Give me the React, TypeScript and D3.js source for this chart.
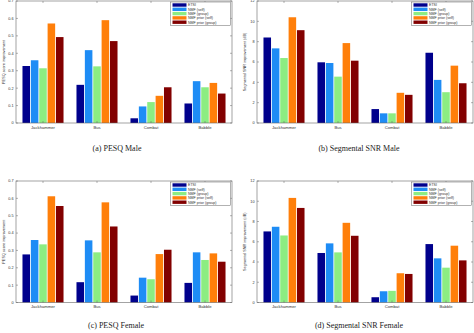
import React from "react";
import * as d3 from "d3";

const categories = ["Jackhammer", "Bus", "Combat", "Babble"];
const seriesNames = ["ETSI", "NMF (self)", "NMF (group)", "NMF prior (self)", "NMF prior (group)"];
const seriesColors = ["#00008c", "#1e8cf5", "#8ced82", "#ff7f0a", "#820000"];

// values[series][category]
const pesqMale = [
  [0.327, 0.219, 0.027, 0.112],
  [0.36, 0.418, 0.095, 0.24],
  [0.314, 0.325, 0.12, 0.205],
  [0.571, 0.59, 0.156, 0.23],
  [0.493, 0.47, 0.205, 0.169],
];
const snrMale = [
  [8.41, 5.97, 1.37, 6.91],
  [7.34, 5.9, 0.95, 4.24],
  [6.39, 4.56, 0.95, 3.03],
  [10.4, 7.86, 2.97, 5.64],
  [9.13, 6.13, 2.77, 3.91],
];
const pesqFemale = [
  [0.277, 0.117, 0.04, 0.113],
  [0.36, 0.358, 0.143, 0.289],
  [0.335, 0.289, 0.134, 0.245],
  [0.612, 0.577, 0.279, 0.283],
  [0.556, 0.438, 0.304, 0.235],
];
const snrFemale = [
  [7.02, 4.89, 0.52, 5.77],
  [7.48, 5.84, 1.11, 4.36],
  [6.62, 4.95, 1.15, 3.44],
  [10.33, 7.87, 2.89, 5.61],
  [9.34, 6.59, 2.82, 4.16],
];

const pesqTicks = [0, 0.1, 0.2, 0.3, 0.4, 0.5, 0.6, 0.7];
const snrTicks = [0, 2, 4, 6, 8, 10, 12];

type PanelProps = {
  x0: number; x1: number; yTop: number; yBot: number;
  data: number[][]; ticks: number[]; yMax: number; yLabel: string;
  caption: string; capY: number; capX: number;
};

function Panel({ x0, x1, yTop, yBot, data, ticks, yMax, yLabel, caption, capY, capX }: PanelProps) {
  const xs = d3.scaleBand<string>().domain(categories).range([x0, x1]).paddingInner(0.24).paddingOuter(0.12);
  const xi = d3.scaleBand<number>().domain(d3.range(seriesNames.length)).range([0, xs.bandwidth()]).paddingInner(0.1);
  const y = d3.scaleLinear().domain([0, yMax]).range([yBot, yTop]);
  const axisColor = "#666";
  const tickLen = 2;
  const lgW = 60, lgH = 23.5;
  const lgX = x1 - 1.5 - lgW, lgY = yTop + 1;
  const fmt = (v: number) => (yMax < 1 ? (v === 0 ? "0" : d3.format(".1f")(v)) : String(v));
  return (
    <g>
      {data.map((ser, si) =>
        ser.map((v, ci) => (
          <rect key={`${si}-${ci}`}
            x={(xs(categories[ci]) as number) + (xi(si) as number)}
            y={y(v)} width={xi.bandwidth()} height={y(0) - y(v)}
            fill={seriesColors[si]} />
        ))
      )}
      <rect x={x0} y={yTop} width={x1 - x0} height={yBot - yTop} fill="none" stroke={axisColor} strokeWidth={0.6} />
      {ticks.map((t) => (
        <g key={t}>
          <line x1={x0} x2={x0 + tickLen} y1={y(t)} y2={y(t)} stroke={axisColor} strokeWidth={0.5} />
          <line x1={x1} x2={x1 - tickLen} y1={y(t)} y2={y(t)} stroke={axisColor} strokeWidth={0.5} />
          <text x={x0 - 2.5} y={y(t) + 1.4} fontSize={3.8} textAnchor="end" fill="#333" fontFamily="Liberation Sans, sans-serif">{fmt(t)}</text>
        </g>
      ))}
      {categories.map((c) => {
        const cx = (xs(c) as number) + xs.bandwidth() / 2;
        return (
          <g key={c}>
            <line x1={cx} x2={cx} y1={yBot} y2={yBot - tickLen} stroke={axisColor} strokeWidth={0.5} />
            <line x1={cx} x2={cx} y1={yTop} y2={yTop + tickLen} stroke={axisColor} strokeWidth={0.5} />
            <text x={cx} y={yBot + 5.5} fontSize={4.2} textAnchor="middle" fill="#333" fontFamily="Liberation Sans, sans-serif">{c}</text>
          </g>
        );
      })}
      <text transform={`translate(${x0 - 11},${(yTop + yBot) / 2}) rotate(-90)`} fontSize={3.8} textAnchor="middle" fill="#333" fontFamily="Liberation Sans, sans-serif">{yLabel}</text>
      <rect x={lgX} y={lgY} width={lgW} height={lgH} fill="#fff" stroke={axisColor} strokeWidth={0.5} />
      {seriesNames.map((n, i) => (
        <g key={n}>
          <rect x={lgX + 2} y={lgY + 1.3 + i * 4.3} width={14} height={3.4} fill={seriesColors[i]} />
          <text x={lgX + 17.5} y={lgY + 4.3 + i * 4.3} fontSize={3.6} fill="#333" fontFamily="Liberation Sans, sans-serif">{n}</text>
        </g>
      ))}
      <text x={capX} y={capY} fontSize={8} textAnchor="middle" fill="#222" fontFamily="Liberation Serif, serif">{caption}</text>
    </g>
  );
}

export default function App() {
  return (
    <svg width={474} height={333} style={{ position: "absolute", left: 0, top: 0, background: "#fff" }}>
      <rect width={474} height={333} fill="#fff" />
      <Panel x0={16} x1={232} yTop={1} yBot={123} data={pesqMale} ticks={pesqTicks} yMax={0.7} yLabel="PESQ score improvement" caption="(a) PESQ Male" capY={151} capX={117} />
      <Panel x0={257} x1={473} yTop={1} yBot={123} data={snrMale} ticks={snrTicks} yMax={12} yLabel="Segmental SNR improvement (dB)" caption="(b) Segmental SNR Male" capY={151} capX={359} />
      <Panel x0={16} x1={232} yTop={181} yBot={302.5} data={pesqFemale} ticks={pesqTicks} yMax={0.7} yLabel="PESQ score improvement" caption="(c) PESQ Female" capY={328} capX={116} />
      <Panel x0={257} x1={473} yTop={181} yBot={302.5} data={snrFemale} ticks={snrTicks} yMax={12} yLabel="Segmental SNR improvement (dB)" caption="(d) Segmental SNR Female" capY={328} capX={359} />
    </svg>
  );
}
